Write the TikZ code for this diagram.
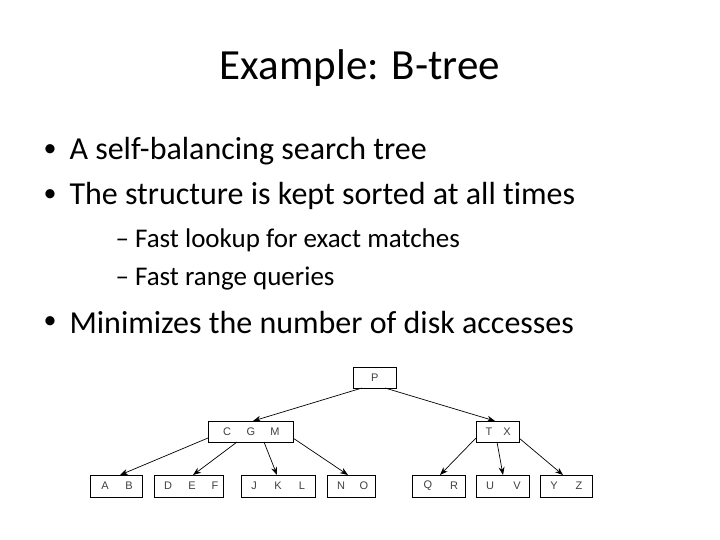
\documentclass[tikz,border=0pt]{standalone}
\usepackage{fontspec}
\setmainfont{Carlito}[Ligatures={NoCommon}]
\newfontfamily\treefont{Liberation Sans}
\usetikzlibrary{arrows.meta}
\begin{document}
\begin{tikzpicture}[x=1pt,y=-1pt,
  bx/.style={draw,line width=0.8pt,inner sep=0pt,anchor=north west},
  lt/.style={font=\treefont\fontsize{11}{11}\selectfont,text=black!75},
  ar/.style={-{Stealth[length=8pt,width=6pt]},line width=0.7pt},
  bd/.style={anchor=west,font=\fontsize{26}{30}\selectfont},
  bl/.style={anchor=west,font=\fontsize{32}{36}\selectfont},
  sb/.style={anchor=west,font=\fontsize{27}{31}\selectfont}]
\useasboundingbox[fill=white] (0,0) rectangle (720,540);
\node[font=\fontsize{43}{46}\selectfont] (title) at (360,68) {Example: B-tree};
\node[bd] (b1d) at (40,151) {•};
\node[bl] (b1) at (66,151) {A self-balancing search tree};
\node[bd] (b2d) at (40,196) {•};
\node[bl] (b2) at (66,196) {The structure is kept sorted at all times};
\node[sb] (s1) at (112,240) {– Fast lookup for exact matches};
\node[sb] (s2) at (112,279) {– Fast range queries};
\node[bd] (b3d) at (40,323) {•};
\node[bl] (b3) at (66,323) {Minimizes the number of disk accesses};
% boxes
\node[bx,minimum width=43pt,minimum height=21pt] (P) at (353,367) {};
\node[bx,minimum width=85pt,minimum height=21pt] (CGM) at (208,421) {};
\node[bx,minimum width=43pt,minimum height=21pt] (TX) at (476,421) {};
\node[bx,minimum width=52pt,minimum height=22pt] (AB) at (90,475) {};
\node[bx,minimum width=69pt,minimum height=22pt] (DEF) at (154,475) {};
\node[bx,minimum width=74pt,minimum height=22pt] (JKL) at (241,475) {};
\node[bx,minimum width=48pt,minimum height=22pt] (NO) at (327,475) {};
\node[bx,minimum width=53pt,minimum height=22pt] (QR) at (412,475) {};
\node[bx,minimum width=53pt,minimum height=22pt] (UV) at (476,475) {};
\node[bx,minimum width=52pt,minimum height=22pt] (YZ) at (540,475) {};
% labels
\node[lt] (tP) at (P.center) {P};
\node[lt] (tC) at (227,432) {C};
\node[lt] (tG) at (251,432) {G};
\node[lt] (tM) at (275,432) {M};
\node[lt] (tT) at (489,432) {T};
\node[lt] (tX) at (507,432) {X};
\node[lt] (tA) at (105,486) {A}; \node[lt] (tB) at (129,486) {B};
\node[lt] (tD) at (168,486) {D}; \node[lt] (tE) at (192,486) {E}; \node[lt] (tF) at (215,486) {F};
\node[lt] (tJ) at (254,486) {J}; \node[lt] (tK) at (278,486) {K}; \node[lt] (tL) at (302,486) {L};
\node[lt] (tN) at (341,486) {N}; \node[lt] (tO) at (364,486) {O};
\node[lt] (tQ) at (428,486) {Q}; \node[lt] (tR) at (454,486) {R};
\node[lt] (tU) at (490,486) {U}; \node[lt] (tV) at (517,486) {V};
\node[lt] (tY) at (554,486) {Y}; \node[lt] (tZ) at (579,486) {Z};
% connector endpoints
\coordinate (p1) at (362,388); \coordinate (p2) at (385,388);
\coordinate (c1) at (208,438); \coordinate (c2) at (237,442);
\coordinate (c3) at (264,442); \coordinate (c4) at (293,438);
\coordinate (t1) at (476,438); \coordinate (t2) at (497,442); \coordinate (t3) at (519,438);
\coordinate (eC) at (253,421); \coordinate (eT) at (495,421);
\coordinate (eA) at (120,475); \coordinate (eD) at (193,475);
\coordinate (eJ) at (277,475); \coordinate (eN) at (348,475);
\coordinate (eQ) at (440,475); \coordinate (eU) at (503,475); \coordinate (eY) at (563,475);
\draw[ar] (p1) -- (eC); \draw[ar] (p2) -- (eT);
\draw[ar] (c1) -- (eA); \draw[ar] (c2) -- (eD);
\draw[ar] (c3) -- (eJ); \draw[ar] (c4) -- (eN);
\draw[ar] (t1) -- (eQ); \draw[ar] (t2) -- (eU); \draw[ar] (t3) -- (eY);
\end{tikzpicture}
\end{document}
